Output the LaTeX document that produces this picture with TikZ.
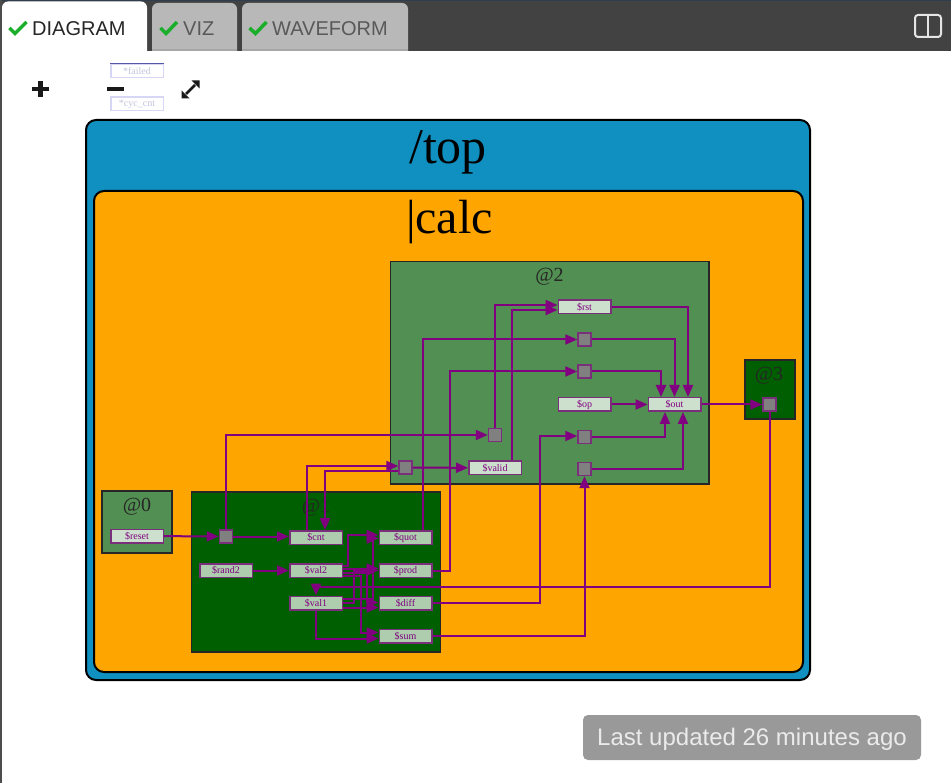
\documentclass[tikz,border=0pt]{standalone}
\usepackage{fontspec}
\setmainfont{Liberation Serif}
\newfontfamily\uifont{Liberation Sans}
\usetikzlibrary{positioning,calc,arrows.meta}

\definecolor{topbar}{HTML}{424242}
\definecolor{topline}{HTML}{2F3E4E}
\definecolor{tabgray}{HTML}{B8B8B8}
\definecolor{okgreen}{HTML}{1AAE2A}
\definecolor{topblue}{HTML}{1090C0}
\definecolor{calcorange}{HTML}{FFA500}
\definecolor{lightstage}{HTML}{528F52}
\definecolor{darkstage}{HTML}{005F00}
\definecolor{wirepurple}{HTML}{800080}
\definecolor{sigedge}{HTML}{7A2F7A}
\definecolor{sigfilldark}{HTML}{AECCAE}
\definecolor{sigfilllight}{HTML}{CDDFCD}
\definecolor{faintedge}{HTML}{D7D7F5}
\definecolor{fainttext}{HTML}{C3C3DC}
\definecolor{faintline}{HTML}{5555AA}

\tikzset{
  x=1pt,y=-1pt,
  tabshape/.style={rounded corners=6pt},
  tabtext/.style={font=\uifont\fontsize{20}{20}\selectfont,anchor=base west,inner sep=0pt},
  check/.style={okgreen,line width=3.5pt},
  icon/.style={black!90,line width=4.5pt},
  stagebox/.style={draw=black!85,line width=1.5pt},
  stagelabel/.style={font=\fontsize{20}{20}\selectfont,text=black!85,inner sep=0pt},
  sigbox/.style={draw=sigedge,line width=1.5pt,minimum width=52.5pt,minimum height=13.5pt,inner sep=0pt,
    font=\fontsize{10}{10}\selectfont,text=wirepurple},
  sigdark/.style={sigbox,fill=sigfilldark},
  siglight/.style={sigbox,fill=sigfilllight},
  sigfaint/.style={sigbox,draw=faintedge,text=fainttext,fill=white},
  sq/.style={draw=sigedge,line width=1.5pt,fill=black!50,minimum size=13pt,inner sep=0pt},
  wire/.style={wirepurple,line width=2pt,-{Triangle[length=12pt,width=10pt]}}
}

\begin{document}
\begin{tikzpicture}
    \useasboundingbox (0,0) rectangle (951,783);
    \fill[white] (0,0) rectangle (951,783);

    % Tab bar
    \fill[topbar] (0,0) rectangle (951,51);
    \fill[topline] (0,0) rectangle (951,1.5);
    \fill[black!70] (0,0) rectangle (2,783);
    \fill[white,tabshape] (2,60) -- (2,1.5) -- (147,1.5) -- (147,60) -- cycle;
    \fill[tabgray,tabshape] (152,60) -- (152,3) -- (237,3) -- (237,60) -- cycle;
    \fill[tabgray,tabshape] (242,60) -- (242,3) -- (408,3) -- (408,60) -- cycle;
    \fill[black!35] (152,49.5) rectangle (237,51);
    \fill[black!35] (242,49.5) rectangle (408,51);
    \fill[white] (147,51) rectangle (951,62);
    \fill[white] (2,51) rectangle (152,62);
    \draw[check] (9.5,28) -- (15,33.5) -- (26.5,22);
    \draw[check] (160.5,28) -- (166,33.5) -- (177,22);
    \draw[check] (249.5,28) -- (255.5,33.5) -- (266.5,22);
    \node[tabtext,text=black!85] (tabdiagram) at (32,36) {DIAGRAM};
    \node[tabtext,text=black!65] (tabviz) at (183,36) {VIZ};
    \node[tabtext,text=black!65] (tabwave) at (272,36) {WAVEFORM};
    \draw[black!10,line width=2pt,rounded corners=3pt] (915,15) rectangle (941,37);
    \draw[black!10,line width=2pt] (928,15) -- (928,37);

    % Zoom controls
    \draw[icon] (32,89) -- (49,89);
    \draw[icon] (40.5,81) -- (40.5,97);
    \node[sigfaint] (failed) at (137,71) {*failed};
    \node[sigfaint] (cyccnt) at (137,104) {*cyc\_cnt};
    \draw[faintline,line width=1pt] (failed.north west) -- (failed.north east);
    \draw[icon] (107,89) -- (124,89);
    \draw[black!90,line width=2.5pt] (186,94) -- (195,85);
    \fill[black!90] (199.5,80.5) -- (191.5,80.5) -- (199.5,88.5) -- cycle;
    \fill[black!90] (181.5,98.5) -- (189.5,98.5) -- (181.5,90.5) -- cycle;

    % Scopes
    \draw[black,line width=2pt,fill=topblue,rounded corners=10pt] (86,120) rectangle (810,680);
    \draw[black,line width=2pt,fill=calcorange,rounded corners=10pt] (94,191) rectangle (803,672);
    \node[font=\fontsize{50}{50}\selectfont,inner sep=0pt,anchor=base] (toplabel) at (448,164) {/top};
    \node[font=\fontsize{48}{48}\selectfont,inner sep=0pt,anchor=base] (calclabel) at (449.5,234) {|calc};

    % Stages
    \draw[stagebox,fill=lightstage] (102,491) rectangle (172,553);
    \draw[stagebox,fill=darkstage] (191.5,492) rectangle (440.5,652);
    \draw[stagebox,fill=lightstage] (390.5,261.5) rectangle (709,484);
    \draw[stagebox,fill=darkstage] (745,360) rectangle (795,419);
    \node[stagelabel] (at0) at (137,506.5) {@0};
    \node[stagelabel] (at1) at (316,507.5) {@1};
    \node[stagelabel] (at2) at (549.5,277) {@2};
    \node[stagelabel] (at3) at (769,376) {@3};

    % Signals @0 and @1
    \node[siglight] (reset) at (137,536) {\$reset};
    \node[sq] (sqa) at (226,536.5) {};
    \node[sigdark] (cnt) at (316,537.5) {\$cnt};
    \node[sigdark] (rand) at (226,570.5) {\$rand2};
    \node[sigdark] (valtwo) at (316,570.5) {\$val2};
    \node[sigdark] (valone) at (316,603) {\$val1};
    \node[sigdark] (quot) at (405.5,537.5) {\$quot};
    \node[sigdark] (prod) at (405.5,570.5) {\$prod};
    \node[sigdark] (diff) at (405.5,603) {\$diff};
    \node[sigdark] (sum) at (405.5,636) {\$sum};

    % Signals @2 and @3
    \node[siglight] (rst) at (584.5,307) {\$rst};
    \node[sq] (sqb) at (584.5,339.5) {};
    \node[sq] (sqc) at (584.5,371.5) {};
    \node[siglight] (op) at (584.5,404.5) {\$op};
    \node[siglight] (out) at (674.5,404.5) {\$out};
    \node[sq] (sqd) at (584.5,437) {};
    \node[sq] (sqe) at (584.5,469) {};
    \node[sq] (sqf) at (495,435) {};
    \node[sq] (sqg) at (405.5,467.5) {};
    \node[siglight] (valid) at (495,468) {\$valid};
    \node[sq] (sqh) at (769.5,404.5) {};

    % Wires @0 to @2
    \draw[wire] (reset) -- (sqa);
    \draw[wire] (sqa) -- (cnt.west |- sqa);
    \draw[wire] (rand) -- (valtwo);
    \draw[wire] (sqa.north) |- (sqf.west);
    \draw[wire] (cnt.north -| 307,0) |- (sqg.west |- 0,466);
    \draw[wire] (sqg.west |- 0,471) -| (cnt.north -| 325,0);
    \draw[wire] (sqg) -- (valid);
    \draw[wire] (sqf.north) |- (rst.west |- 0,305);
    \draw[wire] (valid.north -| 512,0) |- (rst.west |- 0,310);

    % Wires between the signals of @1
    \draw[wire] (valtwo.east |- 0,566) -| (348,535) -- (quot.west |- 0,535);
    \draw[wire] (valtwo.east |- 0,568.5) -- (prod.west |- 0,568.5);
    \draw[wire] (valtwo.east |- 0,572.5) -| (367,602.5) -- (diff.west |- 0,602.5);
    \draw[wire] (valtwo.east |- 0,576) -| (360.5,632.5) -- (sum.west |- 0,632.5);
    \draw[wire] (valone.east |- 0,598.5) -| (373,538.5) -- (quot.west |- 0,538.5);
    \draw[wire] (valone.east |- 0,602.5) -| (354,570.5) -- (prod.west |- 0,570.5);
    \draw[wire] (valone.east |- 0,607.5) -- (diff.west |- 0,607.5);
    \draw[wire] (valone.south) |- (sum.west |- 0,638.5);

    % Wires @1 to @2 and @3
    \draw[wire] (quot.north -| 423,0) |- (sqb.west);
    \draw[wire] (prod.east) -| (450,371.5) -- (sqc.west);
    \draw[wire] (diff.east) -| (540,436) -- (sqd.west |- 0,436);
    \draw[wire] (sum.east) -| (sqe.south);
    \draw[wire] (rst.east) -| (out.north -| 688,0);
    \draw[wire] (sqb.east) -| (out.north);
    \draw[wire] (sqc.east) -| (out.north -| 661,0);
    \draw[wire] (op) -- (out);
    \draw[wire] (sqd.east) -| (out.south -| 665,0);
    \draw[wire] (sqe.east) -| (out.south -| 683,0);
    \draw[wire] (out) -- (sqh);
    \draw[wire] (sqh.south) |- (316,587) -- (valone.north);

    % Status badge
    \node[fill=black!40,rounded corners=5pt,text=black!8,font=\uifont\fontsize{24}{24}\selectfont,inner sep=0pt,
      minimum width=338pt,minimum height=45pt] (status) at (752,737.5) {\raisebox{-8pt}[0pt][0pt]{Last updated 26 minutes ago}};
\end{tikzpicture}
\end{document}
